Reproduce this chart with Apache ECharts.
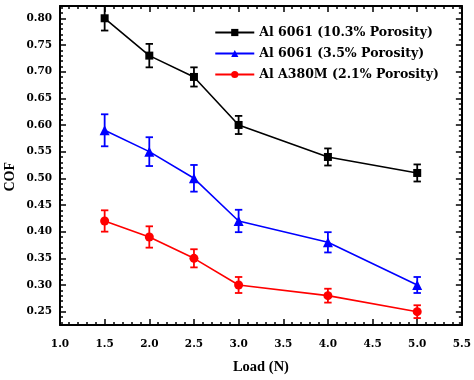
<!DOCTYPE html>
<html><head><meta charset="utf-8">
<script src="https://cdn.jsdelivr.net/npm/echarts@6/dist/echarts.min.js"></script>
<style>html,body{margin:0;padding:0;background:#fff}#c{width:474px;height:380px}</style>
</head><body><div id="c"></div>
<script>
var loads = [1.5, 2.0, 2.5, 3.0, 4.0, 5.0];
var names = ['Al 6061 (10.3% Porosity)', 'Al 6061 (3.5% Porosity)', 'Al A380M (2.1% Porosity)'];
var cof10 = [0.80, 0.73, 0.69, 0.60, 0.54, 0.51];
var err10 = [0.023, 0.022, 0.018, 0.017, 0.016, 0.016];
var cof35 = [0.59, 0.55, 0.50, 0.42, 0.38, 0.30];
var err35 = [0.03, 0.027, 0.025, 0.021, 0.019, 0.015];
var cof21 = [0.42, 0.39, 0.35, 0.30, 0.28, 0.25];
var err21 = [0.02, 0.02, 0.017, 0.015, 0.013, 0.012];
var colors = ['#000000', '#0000ff', '#ff0000'];
var symbols = ['rect', 'triangle', 'circle'];
var yLabels = [0.25, 0.30, 0.35, 0.40, 0.45, 0.50, 0.55, 0.60, 0.65, 0.70, 0.75, 0.80];

var FONT = 'DejaVu Serif';
var yMin = 0.225, yMax = 0.823;
var yMinor = [];
for (var i = 23; i <= 82; i++) yMinor.push(+(i / 100).toFixed(2));

function lineData(v) { return loads.map(function (x, i) { return [x, v[i]]; }); }
function errData(v, e) { return loads.map(function (x, i) { return [x, v[i] - e[i], v[i] + e[i]]; }); }

function errSeries(v, e, color) {
  return {
    type: 'custom', xAxisIndex: 0, yAxisIndex: 0, z: 3, silent: true,
    data: errData(v, e),
    renderItem: function (params, api) {
      var lo = api.coord([api.value(0), api.value(1)]);
      var hi = api.coord([api.value(0), api.value(2)]);
      var w = 3.7;
      var st = { stroke: color, lineWidth: 1.8 };
      return { type: 'group', children: [
        { type: 'line', shape: { x1: lo[0], y1: lo[1], x2: hi[0], y2: hi[1] }, style: st },
        { type: 'line', shape: { x1: lo[0] - w, y1: lo[1], x2: lo[0] + w, y2: lo[1] }, style: st },
        { type: 'line', shape: { x1: hi[0] - w, y1: hi[1], x2: hi[0] + w, y2: hi[1] }, style: st }
      ]};
    }
  };
}
function lineSeries(name, v, i) {
  return {
    name: name, type: 'line', xAxisIndex: 0, yAxisIndex: 0, z: 4,
    data: lineData(v), symbol: symbols[i],
    symbolSize: i === 1 ? 10 : (i === 0 ? 8 : 9),
    color: colors[i],
    itemStyle: { color: colors[i] },
    lineStyle: { color: colors[i], width: 1.6 }
  };
}
var axLine = { show: true, onZero: false, lineStyle: { color: '#000', width: 2 } };
var labelStyle = { color: '#000', fontFamily: FONT, fontWeight: 'bold', fontSize: 10.5 };

var chart = echarts.init(document.getElementById('c'), null, { renderer: 'canvas' });
chart.setOption({
  animation: false,
  backgroundColor: '#fff',
  grid: { left: 60, right: 12, top: 6, bottom: 52, containLabel: false },
  legend: {
    data: names, right: 30, top: 21, orient: 'vertical', itemGap: 8,
    itemWidth: 39, itemHeight: 9,
    textStyle: { color: '#000', fontFamily: FONT, fontWeight: 'bold', fontSize: 12.5 }
  },
  graphic: [{
    type: 'text', left: 3, top: 162, rotation: Math.PI / 2,
    style: { text: 'COF', fill: '#000', font: 'bold 14px "Liberation Serif"' }
  }],
  xAxis: [
    { type: 'value', min: 1.0, max: 5.5, interval: 0.5, position: 'bottom',
      name: 'Load (N)', nameLocation: 'middle', nameGap: 35,
      nameTextStyle: { color: '#000', fontFamily: 'Liberation Serif', fontWeight: 'bold', fontSize: 14.5 },
      axisLine: axLine, axisTick: { inside: true, length: 6, lineStyle: { color: '#000', width: 1.5 } },
      minorTick: { show: true, splitNumber: 5, length: 3, lineStyle: { color: '#000', width: 1.5 } },
      axisLabel: Object.assign({ margin: 14, formatter: function (v) { return v.toFixed(1); } }, labelStyle),
      splitLine: { show: false } },
    { type: 'value', min: 1.0, max: 5.5, interval: 0.5, position: 'top',
      axisLine: axLine, axisTick: { inside: true, length: 6, lineStyle: { color: '#000', width: 1.5 } },
      minorTick: { show: true, splitNumber: 5, length: 3, lineStyle: { color: '#000', width: 1.5 } },
      axisLabel: { show: false }, splitLine: { show: false } }
  ],
  yAxis: [
    { type: 'value', min: yMin, max: yMax, position: 'left',
      axisLine: axLine,
      axisTick: { inside: true, length: 6, customValues: yLabels, lineStyle: { color: '#000', width: 1.5 } },
      axisLabel: Object.assign({ margin: 8, customValues: yLabels, formatter: function (v) { return v.toFixed(2); } }, labelStyle),
      splitLine: { show: false } },
    { type: 'value', min: yMin, max: yMax, position: 'left',
      axisLine: { show: false },
      axisTick: { inside: true, length: 3, customValues: yMinor, lineStyle: { color: '#000', width: 1.5 } },
      axisLabel: { show: false }, splitLine: { show: false } },
    { type: 'value', min: yMin, max: yMax, position: 'right',
      axisLine: axLine,
      axisTick: { inside: true, length: 6, customValues: yLabels, lineStyle: { color: '#000', width: 1.5 } },
      axisLabel: { show: false }, splitLine: { show: false } },
    { type: 'value', min: yMin, max: yMax, position: 'right',
      axisLine: { show: false },
      axisTick: { inside: true, length: 3, customValues: yMinor, lineStyle: { color: '#000', width: 1.5 } },
      axisLabel: { show: false }, splitLine: { show: false } }
  ],
  series: [
    errSeries(cof10, err10, colors[0]),
    errSeries(cof35, err35, colors[1]),
    errSeries(cof21, err21, colors[2]),
    lineSeries(names[0], cof10, 0),
    lineSeries(names[1], cof35, 1),
    lineSeries(names[2], cof21, 2)
  ]
});
</script></body></html>
